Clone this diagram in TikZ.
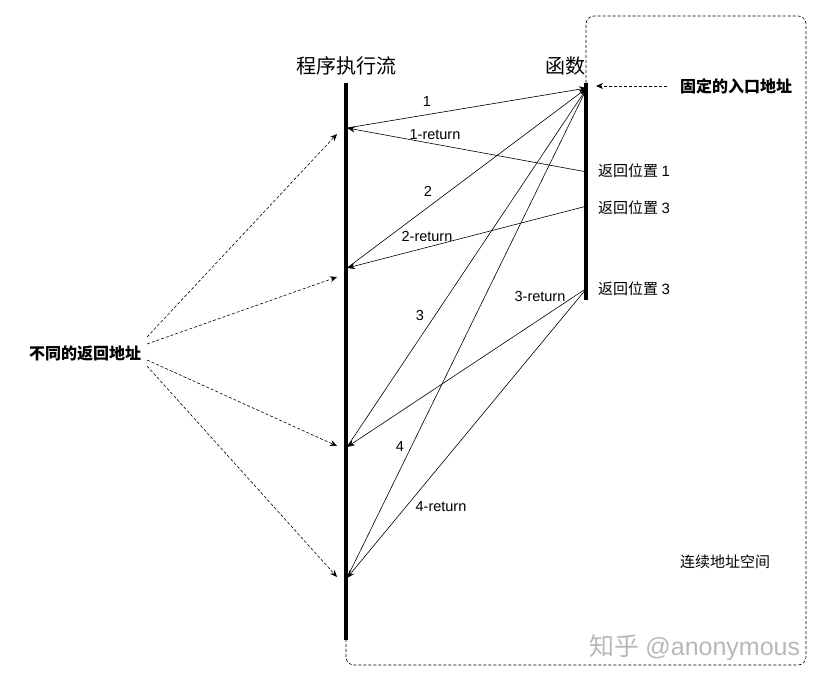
\documentclass[tikz,border=0pt]{standalone}
\usepackage{fontspec}
\setmainfont{Liberation Sans}
\newfontfamily\cjk{Noto Sans CJK SC}
\usetikzlibrary{arrows.meta}
\tikzset{
  bar/.style={line width=3.6pt, black},
  jump/.style={-{Stealth[length=8pt,width=6pt]}, line width=0.6pt},
  hint/.style={-{Stealth[length=7pt,width=6pt]}, dash pattern=on 3pt off 2pt, line width=0.6pt},
  border/.style={dash pattern=on 3pt off 2pt, line width=0.6pt, rounded corners=8pt},
  lab/.style={font=\fontsize{14.5}{16}\selectfont, inner sep=1pt},
  cjklab/.style={font=\cjk\fontsize{15}{17}\selectfont, inner sep=1pt},
  boldlab/.style={font=\cjk\bfseries\fontsize{16}{18}\selectfont, inner sep=1pt},
  head/.style={font=\cjk\fontsize{20}{22}\selectfont, inner sep=1pt},
}

\begin{document}
\begin{tikzpicture}[x=1pt, y=-1pt]
  \useasboundingbox (0,0) rectangle (824,684);

  % the two columns
  \coordinate (flowtop) at (346,83);
  \coordinate (flowbot) at (346,640);
  \coordinate (funtop) at (586,83);
  \coordinate (funbot) at (586,300);
  \draw[bar] (flowtop) -- (flowbot);
  \draw[bar] (funtop) -- (funbot);
  \node[head] (flowname) at (346,66) {程序执行流};
  \node[head, anchor=east] (funname) at (587,66) {函数};

  % address space outline
  \draw[border] (586,83) -- (586,16) -- (806,16) -- (806,665) -- (346,665) -- (flowbot);
  \node[cjklab] (space) at (725,562) {连续地址空间};
  \node[font=\cjk\fontsize{25}{27}\selectfont, text=black!28] (mark) at (695,648) {知乎 \fontspec{Liberation Sans}@anonymous};

  % points on the function
  \coordinate (entry) at (587,88);
  \coordinate (ret1) at (587,172);
  \coordinate (ret2) at (587,206);
  \coordinate (ret3) at (587,288);
  \node[cjklab, anchor=west] (pos1) at (597,171) {返回位置 \fontspec{Liberation Sans}1};
  \node[cjklab, anchor=west] (pos2) at (597,208) {返回位置 \fontspec{Liberation Sans}3};
  \node[cjklab, anchor=west] (pos3) at (597,289) {返回位置 \fontspec{Liberation Sans}3};

  % points on the caller
  \foreach \i/\y in {1/128, 2/268, 3/447, 4/578}{
    \coordinate (site\i) at (347,\y);
  }

  % calls and returns
  \draw[jump] (site1) -- (entry);
  \draw[jump] (ret1) -- (site1);
  \draw[jump] (site2) -- (entry);
  \draw[jump] (ret2) -- (site2);
  \draw[jump] (site3) -- (entry);
  \draw[jump] (ret3) -- (site3);
  \draw[jump] (site4) -- (entry);
  \draw[jump] (ret3) -- (site4);
  \node[lab] (l1) at (427,102) {1};
  \node[lab] (l1r) at (435,135) {1-return};
  \node[lab] (l2) at (428,191) {2};
  \node[lab] (l2r) at (427,237) {2-return};
  \node[lab] (l3) at (420,316) {3};
  \node[lab] (l3r) at (540,297) {3-return};
  \node[lab] (l4) at (400,447) {4};
  \node[lab] (l4r) at (441,507) {4-return};

  % entry address
  \node[boldlab] (fixed) at (736,86) {固定的入口地址};
  \draw[hint] (fixed.west) ++(-12,0) coordinate (fixedtail) -- (596,86);

  % return addresses
  \node[boldlab] (retaddr) at (85,353) {不同的返回地址};
  \coordinate (src1) at (147,337);
  \coordinate (src2) at (147,344);
  \coordinate (src3) at (147,360);
  \coordinate (src4) at (147,366);
  \draw[hint] (src1) -- (337,134);
  \draw[hint] (src2) -- (337,277);
  \draw[hint] (src3) -- (337,446);
  \draw[hint] (src4) -- (337,577);
\end{tikzpicture}
\end{document}
